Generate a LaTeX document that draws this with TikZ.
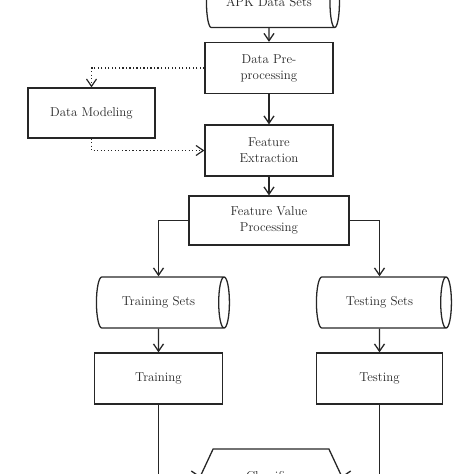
\documentclass[tikz,border=0pt]{standalone}
\usetikzlibrary{arrows.meta, shapes.geometric, shapes.symbols}
\definecolor{inkgray}{HTML}{262626}
\def\px{0.03cm}

\begin{document}
\begin{tikzpicture}[
    x=\px, y=-\px,
    >={Straight Barb[length=2.2mm, width=3mm]},
    line width=1.1pt, inkgray,
    every node/.style={text=inkgray, font=\fontsize{11}{13.6}\selectfont, align=center},
    procbox/.style={draw, rectangle, minimum width=128*\px, minimum height=51*\px},
    datastore/.style={draw, cylinder, shape aspect=0.55, minimum height=133*\px, minimum width=51*\px},
    flow/.style={->},
    sideflow/.style={->, dotted, line width=1pt},
  ]

  \useasboundingbox (0,0) rectangle (474,474);
  \clip (0,0) rectangle (474,474);

  % Main column
  \node[datastore] (apk) at (269,2) {APK Data Sets};
  \node[procbox] (pre) at (269,68) {Data Pre-\\processing};
  \node[procbox] (feat) at (269,150.5) {Feature\\Extraction};
  \node[procbox, minimum width=160*\px, minimum height=49*\px] (fvp) at (269,220.5)
    {Feature Value\\Processing};

  % Side branch
  \node[procbox, minimum width=127*\px, minimum height=50*\px] (model) at (91.5,113) {Data Modeling};

  % Two branches
  \node[datastore] (trainset) at (158.5,302.5) {Training Sets};
  \node[datastore, minimum height=135*\px] (testset) at (379.5,302.5) {Testing Sets};
  \node[procbox] (train) at (158.5,378.5) {Training};
  \node[procbox, minimum width=126*\px] (test) at (379.5,378.5) {Testing};

  % Classifier
  \node[draw, signal, signal to=west and east, signal pointer angle=130,
        minimum width=141*\px, minimum height=54*\px] (cls) at (271,476) {Classifier};

  % Connectors
  \draw[flow] (apk.south) -- (pre.north);
  \draw[flow] (pre.south) -- (feat.north);
  \draw[flow] (feat.south) -- (fvp.north);
  \draw[sideflow] (pre.west) -| (model.north);
  \draw[sideflow] (model.south) |- (feat.west);
  \draw[flow] (fvp.west) -| (trainset.north);
  \draw[flow] (fvp.east) -| (testset.north);
  \draw[flow] (trainset.south) -- (train.north);
  \draw[flow] (testset.south) -- (test.north);
  \draw[flow] (train.south) |- (cls.west);
  \draw[flow] (test.south) |- (cls.east);

\end{tikzpicture}
\end{document}
